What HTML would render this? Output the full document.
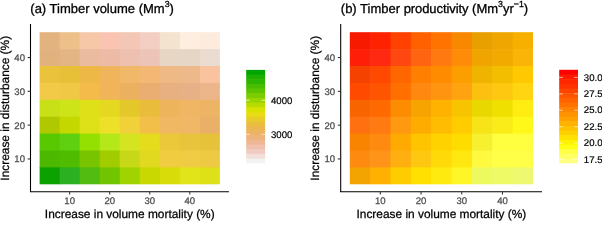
<!DOCTYPE html>
<html><head><meta charset="utf-8"><style>html,body{margin:0;padding:0;background:#fff;width:602px;height:221px;overflow:hidden}svg{display:block;will-change:transform} text{text-rendering:geometricPrecision}</style></head>
<body><svg width="602" height="221" viewBox="0 0 602 221" >
<rect width="602" height="221" fill="#fff"/>
<g>
<rect x="39.60" y="32.20" width="20.63" height="17.50" fill="#E3B37F"/>
<rect x="59.63" y="32.20" width="20.63" height="17.50" fill="#EDC08A"/>
<rect x="79.67" y="32.20" width="20.63" height="17.50" fill="#F7C8A8"/>
<rect x="99.70" y="32.20" width="20.63" height="17.50" fill="#F9C5B2"/>
<rect x="119.73" y="32.20" width="20.63" height="17.50" fill="#F3C6B6"/>
<rect x="139.77" y="32.20" width="20.63" height="17.50" fill="#F3CFC3"/>
<rect x="159.80" y="32.20" width="20.63" height="17.50" fill="#F3E3CF"/>
<rect x="179.83" y="32.20" width="20.63" height="17.50" fill="#FDEEE0"/>
<rect x="199.87" y="32.20" width="20.03" height="17.50" fill="#FDEBDD"/>
<rect x="39.60" y="49.10" width="20.63" height="17.50" fill="#E1B27E"/>
<rect x="59.63" y="49.10" width="20.63" height="17.50" fill="#E3B584"/>
<rect x="79.67" y="49.10" width="20.63" height="17.50" fill="#EBBBA0"/>
<rect x="99.70" y="49.10" width="20.63" height="17.50" fill="#EDBBA5"/>
<rect x="119.73" y="49.10" width="20.63" height="17.50" fill="#EDC0B0"/>
<rect x="139.77" y="49.10" width="20.63" height="17.50" fill="#ECC5B8"/>
<rect x="159.80" y="49.10" width="20.63" height="17.50" fill="#E8D6C4"/>
<rect x="179.83" y="49.10" width="20.63" height="17.50" fill="#E6D6C5"/>
<rect x="199.87" y="49.10" width="20.03" height="17.50" fill="#EADCD0"/>
<rect x="39.60" y="66.00" width="20.63" height="17.50" fill="#EBC23C"/>
<rect x="59.63" y="66.00" width="20.63" height="17.50" fill="#E8C038"/>
<rect x="79.67" y="66.00" width="20.63" height="17.50" fill="#EEB846"/>
<rect x="99.70" y="66.00" width="20.63" height="17.50" fill="#F0B55A"/>
<rect x="119.73" y="66.00" width="20.63" height="17.50" fill="#F2B86A"/>
<rect x="139.77" y="66.00" width="20.63" height="17.50" fill="#F5B874"/>
<rect x="159.80" y="66.00" width="20.63" height="17.50" fill="#EFB986"/>
<rect x="179.83" y="66.00" width="20.63" height="17.50" fill="#EDB88A"/>
<rect x="199.87" y="66.00" width="20.03" height="17.50" fill="#F8C39E"/>
<rect x="39.60" y="82.90" width="20.63" height="17.50" fill="#F3CA48"/>
<rect x="59.63" y="82.90" width="20.63" height="17.50" fill="#F0C846"/>
<rect x="79.67" y="82.90" width="20.63" height="17.50" fill="#F4BA4A"/>
<rect x="99.70" y="82.90" width="20.63" height="17.50" fill="#F2B458"/>
<rect x="119.73" y="82.90" width="20.63" height="17.50" fill="#EBB060"/>
<rect x="139.77" y="82.90" width="20.63" height="17.50" fill="#EBAE72"/>
<rect x="159.80" y="82.90" width="20.63" height="17.50" fill="#E8B080"/>
<rect x="179.83" y="82.90" width="20.63" height="17.50" fill="#E8B087"/>
<rect x="199.87" y="82.90" width="20.03" height="17.50" fill="#EDB58A"/>
<rect x="39.60" y="99.80" width="20.63" height="17.50" fill="#C8E018"/>
<rect x="59.63" y="99.80" width="20.63" height="17.50" fill="#CCE418"/>
<rect x="79.67" y="99.80" width="20.63" height="17.50" fill="#E0E018"/>
<rect x="99.70" y="99.80" width="20.63" height="17.50" fill="#E4D820"/>
<rect x="119.73" y="99.80" width="20.63" height="17.50" fill="#E4C82A"/>
<rect x="139.77" y="99.80" width="20.63" height="17.50" fill="#EABC3C"/>
<rect x="159.80" y="99.80" width="20.63" height="17.50" fill="#EEB45C"/>
<rect x="179.83" y="99.80" width="20.63" height="17.50" fill="#F0B664"/>
<rect x="199.87" y="99.80" width="20.03" height="17.50" fill="#EEB466"/>
<rect x="39.60" y="116.70" width="20.63" height="17.50" fill="#B0C800"/>
<rect x="59.63" y="116.70" width="20.63" height="17.50" fill="#C4D800"/>
<rect x="79.67" y="116.70" width="20.63" height="17.50" fill="#DEE018"/>
<rect x="99.70" y="116.70" width="20.63" height="17.50" fill="#EDE028"/>
<rect x="119.73" y="116.70" width="20.63" height="17.50" fill="#F1D13A"/>
<rect x="139.77" y="116.70" width="20.63" height="17.50" fill="#F2C048"/>
<rect x="159.80" y="116.70" width="20.63" height="17.50" fill="#F0B862"/>
<rect x="179.83" y="116.70" width="20.63" height="17.50" fill="#F0B866"/>
<rect x="199.87" y="116.70" width="20.03" height="17.50" fill="#EBB068"/>
<rect x="39.60" y="133.60" width="20.63" height="17.50" fill="#58C800"/>
<rect x="59.63" y="133.60" width="20.63" height="17.50" fill="#5ED010"/>
<rect x="79.67" y="133.60" width="20.63" height="17.50" fill="#94E000"/>
<rect x="99.70" y="133.60" width="20.63" height="17.50" fill="#B4E818"/>
<rect x="119.73" y="133.60" width="20.63" height="17.50" fill="#D4E420"/>
<rect x="139.77" y="133.60" width="20.63" height="17.50" fill="#E4DC1C"/>
<rect x="159.80" y="133.60" width="20.63" height="17.50" fill="#EAC83A"/>
<rect x="179.83" y="133.60" width="20.63" height="17.50" fill="#E8C43C"/>
<rect x="199.87" y="133.60" width="20.03" height="17.50" fill="#E6C23A"/>
<rect x="39.60" y="150.50" width="20.63" height="17.50" fill="#4CB800"/>
<rect x="59.63" y="150.50" width="20.63" height="17.50" fill="#50BC00"/>
<rect x="79.67" y="150.50" width="20.63" height="17.50" fill="#78C400"/>
<rect x="99.70" y="150.50" width="20.63" height="17.50" fill="#A0CC00"/>
<rect x="119.73" y="150.50" width="20.63" height="17.50" fill="#C6D818"/>
<rect x="139.77" y="150.50" width="20.63" height="17.50" fill="#E1D820"/>
<rect x="159.80" y="150.50" width="20.63" height="17.50" fill="#F0CC40"/>
<rect x="179.83" y="150.50" width="20.63" height="17.50" fill="#F0CC44"/>
<rect x="199.87" y="150.50" width="20.03" height="17.50" fill="#EECA44"/>
<rect x="39.60" y="167.40" width="20.63" height="16.90" fill="#0CA000"/>
<rect x="59.63" y="167.40" width="20.63" height="16.90" fill="#2AB020"/>
<rect x="79.67" y="167.40" width="20.63" height="16.90" fill="#52BC10"/>
<rect x="99.70" y="167.40" width="20.63" height="16.90" fill="#70C400"/>
<rect x="119.73" y="167.40" width="20.63" height="16.90" fill="#A0D400"/>
<rect x="139.77" y="167.40" width="20.63" height="16.90" fill="#C8D800"/>
<rect x="159.80" y="167.40" width="20.63" height="16.90" fill="#D8DC08"/>
<rect x="179.83" y="167.40" width="20.63" height="16.90" fill="#E0E418"/>
<rect x="199.87" y="167.40" width="20.03" height="16.90" fill="#DEE018"/>
<line x1="30.5" y1="24" x2="30.5" y2="192" stroke="#000" stroke-width="1.07"/>
<line x1="30.0" y1="191.7" x2="228.9" y2="191.7" stroke="#000" stroke-width="1.07"/>
<line x1="27.6" y1="57.55" x2="30.5" y2="57.55" stroke="#333" stroke-width="1.07"/>
<text x="25.0" y="61.05" font-size="9.6" fill="#4D4D4D" stroke="#4D4D4D" stroke-width="0.25" text-anchor="end" font-family="Liberation Sans, sans-serif">40</text>
<line x1="27.6" y1="91.35" x2="30.5" y2="91.35" stroke="#333" stroke-width="1.07"/>
<text x="25.0" y="94.85" font-size="9.6" fill="#4D4D4D" stroke="#4D4D4D" stroke-width="0.25" text-anchor="end" font-family="Liberation Sans, sans-serif">30</text>
<line x1="27.6" y1="125.15" x2="30.5" y2="125.15" stroke="#333" stroke-width="1.07"/>
<text x="25.0" y="128.65" font-size="9.6" fill="#4D4D4D" stroke="#4D4D4D" stroke-width="0.25" text-anchor="end" font-family="Liberation Sans, sans-serif">20</text>
<line x1="27.6" y1="158.95" x2="30.5" y2="158.95" stroke="#333" stroke-width="1.07"/>
<text x="25.0" y="162.45" font-size="9.6" fill="#4D4D4D" stroke="#4D4D4D" stroke-width="0.25" text-anchor="end" font-family="Liberation Sans, sans-serif">10</text>
<line x1="69.65" y1="191.7" x2="69.65" y2="194.6" stroke="#333" stroke-width="1.07"/>
<text x="69.65" y="204.3" font-size="9.6" fill="#4D4D4D" stroke="#4D4D4D" stroke-width="0.25" text-anchor="middle" font-family="Liberation Sans, sans-serif">10</text>
<line x1="109.72" y1="191.7" x2="109.72" y2="194.6" stroke="#333" stroke-width="1.07"/>
<text x="109.72" y="204.3" font-size="9.6" fill="#4D4D4D" stroke="#4D4D4D" stroke-width="0.25" text-anchor="middle" font-family="Liberation Sans, sans-serif">20</text>
<line x1="149.78" y1="191.7" x2="149.78" y2="194.6" stroke="#333" stroke-width="1.07"/>
<text x="149.78" y="204.3" font-size="9.6" fill="#4D4D4D" stroke="#4D4D4D" stroke-width="0.25" text-anchor="middle" font-family="Liberation Sans, sans-serif">30</text>
<line x1="189.85" y1="191.7" x2="189.85" y2="194.6" stroke="#333" stroke-width="1.07"/>
<text x="189.85" y="204.3" font-size="9.6" fill="#4D4D4D" stroke="#4D4D4D" stroke-width="0.25" text-anchor="middle" font-family="Liberation Sans, sans-serif">40</text>
<text x="129.75" y="218.35" font-size="11.9" fill="#000" stroke="#000" stroke-width="0.25" text-anchor="middle" font-family="Liberation Sans, sans-serif">Increase in volume mortality (%)</text>
<text x="0" y="0" transform="translate(8.8,108.25) rotate(-90)" font-size="11.9" fill="#000" stroke="#000" stroke-width="0.25" text-anchor="middle" font-family="Liberation Sans, sans-serif">Increase in disturbance (%)</text>
<text x="30.3" y="12.8" font-size="13" fill="#000" stroke="#000" stroke-width="0.3" font-family="Liberation Sans, sans-serif">(a) Timber volume (Mm<tspan font-size="8.8" dy="-6.3">3</tspan><tspan dy="6.3">)</tspan></text>
<rect x="246.2" y="69.90" width="18.90" height="5.27" fill="#00A600"/>
<rect x="246.2" y="74.57" width="18.90" height="5.27" fill="#1CAE00"/>
<rect x="246.2" y="79.24" width="18.90" height="5.27" fill="#2BB500"/>
<rect x="246.2" y="83.91" width="18.90" height="5.27" fill="#47BD00"/>
<rect x="246.2" y="88.58" width="18.90" height="5.27" fill="#5EC400"/>
<rect x="246.2" y="93.25" width="18.90" height="5.27" fill="#7BCC00"/>
<rect x="246.2" y="97.92" width="18.90" height="5.27" fill="#97D400"/>
<rect x="246.2" y="102.59" width="18.90" height="5.27" fill="#B7DB00"/>
<rect x="246.2" y="107.26" width="18.90" height="5.27" fill="#D8E300"/>
<rect x="246.2" y="111.93" width="18.90" height="5.27" fill="#E7DD15"/>
<rect x="246.2" y="116.60" width="18.90" height="5.27" fill="#E8CC27"/>
<rect x="246.2" y="121.27" width="18.90" height="5.27" fill="#E9BF3B"/>
<rect x="246.2" y="125.94" width="18.90" height="5.27" fill="#EAB751"/>
<rect x="246.2" y="130.61" width="18.90" height="5.27" fill="#ECB266"/>
<rect x="246.2" y="135.28" width="18.90" height="5.27" fill="#EDB37D"/>
<rect x="246.2" y="139.95" width="18.90" height="5.27" fill="#EEB693"/>
<rect x="246.2" y="144.62" width="18.90" height="5.27" fill="#EFC0AB"/>
<rect x="246.2" y="149.29" width="18.90" height="5.27" fill="#F0CBC3"/>
<rect x="246.2" y="153.96" width="18.90" height="5.27" fill="#F2DFDA"/>
<rect x="246.2" y="158.63" width="18.90" height="4.67" fill="#F2F2F2"/>
<line x1="246.2" y1="100.30" x2="249.98" y2="100.30" stroke="#fff" stroke-width="0.8" stroke-opacity="0.75" shape-rendering="auto"/>
<line x1="261.32" y1="100.30" x2="265.1" y2="100.30" stroke="#fff" stroke-width="0.8" stroke-opacity="0.75" shape-rendering="auto"/>
<text x="271.0" y="103.50" font-size="9.6" fill="#000" stroke="#000" stroke-width="0.2" font-family="Liberation Sans, sans-serif">4000</text>
<line x1="246.2" y1="134.30" x2="249.98" y2="134.30" stroke="#fff" stroke-width="0.8" stroke-opacity="0.75" shape-rendering="auto"/>
<line x1="261.32" y1="134.30" x2="265.1" y2="134.30" stroke="#fff" stroke-width="0.8" stroke-opacity="0.75" shape-rendering="auto"/>
<text x="271.0" y="137.50" font-size="9.6" fill="#000" stroke="#000" stroke-width="0.2" font-family="Liberation Sans, sans-serif">3000</text>
<rect x="349.80" y="32.20" width="20.96" height="17.50" fill="#F81A00"/>
<rect x="370.16" y="32.20" width="20.96" height="17.50" fill="#FF2200"/>
<rect x="390.51" y="32.20" width="20.96" height="17.50" fill="#FF4200"/>
<rect x="410.87" y="32.20" width="20.96" height="17.50" fill="#FF6000"/>
<rect x="431.22" y="32.20" width="20.96" height="17.50" fill="#FF7400"/>
<rect x="451.58" y="32.20" width="20.96" height="17.50" fill="#F88800"/>
<rect x="471.93" y="32.20" width="20.96" height="17.50" fill="#E8A000"/>
<rect x="492.29" y="32.20" width="20.96" height="17.50" fill="#EFA600"/>
<rect x="512.64" y="32.20" width="20.36" height="17.50" fill="#F8B000"/>
<rect x="349.80" y="49.10" width="20.96" height="17.50" fill="#FF1E08"/>
<rect x="370.16" y="49.10" width="20.96" height="17.50" fill="#FF2810"/>
<rect x="390.51" y="49.10" width="20.96" height="17.50" fill="#FF4810"/>
<rect x="410.87" y="49.10" width="20.96" height="17.50" fill="#FF6410"/>
<rect x="431.22" y="49.10" width="20.96" height="17.50" fill="#FF7810"/>
<rect x="451.58" y="49.10" width="20.96" height="17.50" fill="#FF8C08"/>
<rect x="471.93" y="49.10" width="20.96" height="17.50" fill="#F0A400"/>
<rect x="492.29" y="49.10" width="20.96" height="17.50" fill="#F2AA00"/>
<rect x="512.64" y="49.10" width="20.36" height="17.50" fill="#FAB408"/>
<rect x="349.80" y="66.00" width="20.96" height="17.50" fill="#F54200"/>
<rect x="370.16" y="66.00" width="20.96" height="17.50" fill="#FF4800"/>
<rect x="390.51" y="66.00" width="20.96" height="17.50" fill="#FF6600"/>
<rect x="410.87" y="66.00" width="20.96" height="17.50" fill="#FF8000"/>
<rect x="431.22" y="66.00" width="20.96" height="17.50" fill="#FF8C00"/>
<rect x="451.58" y="66.00" width="20.96" height="17.50" fill="#FC9E00"/>
<rect x="471.93" y="66.00" width="20.96" height="17.50" fill="#EEB400"/>
<rect x="492.29" y="66.00" width="20.96" height="17.50" fill="#F4BE00"/>
<rect x="512.64" y="66.00" width="20.36" height="17.50" fill="#FFC800"/>
<rect x="349.80" y="82.90" width="20.96" height="17.50" fill="#FF4A00"/>
<rect x="370.16" y="82.90" width="20.96" height="17.50" fill="#FF5400"/>
<rect x="390.51" y="82.90" width="20.96" height="17.50" fill="#FF7000"/>
<rect x="410.87" y="82.90" width="20.96" height="17.50" fill="#FF8810"/>
<rect x="431.22" y="82.90" width="20.96" height="17.50" fill="#FF9410"/>
<rect x="451.58" y="82.90" width="20.96" height="17.50" fill="#FFA410"/>
<rect x="471.93" y="82.90" width="20.96" height="17.50" fill="#FCC010"/>
<rect x="492.29" y="82.90" width="20.96" height="17.50" fill="#FFC810"/>
<rect x="512.64" y="82.90" width="20.36" height="17.50" fill="#FFD410"/>
<rect x="349.80" y="99.80" width="20.96" height="17.50" fill="#F86400"/>
<rect x="370.16" y="99.80" width="20.96" height="17.50" fill="#FF6A00"/>
<rect x="390.51" y="99.80" width="20.96" height="17.50" fill="#FC8C00"/>
<rect x="410.87" y="99.80" width="20.96" height="17.50" fill="#F8A400"/>
<rect x="431.22" y="99.80" width="20.96" height="17.50" fill="#FFB200"/>
<rect x="451.58" y="99.80" width="20.96" height="17.50" fill="#F8C400"/>
<rect x="471.93" y="99.80" width="20.96" height="17.50" fill="#E8D800"/>
<rect x="492.29" y="99.80" width="20.96" height="17.50" fill="#F0E000"/>
<rect x="512.64" y="99.80" width="20.36" height="17.50" fill="#FFEC10"/>
<rect x="349.80" y="116.70" width="20.96" height="17.50" fill="#FF7010"/>
<rect x="370.16" y="116.70" width="20.96" height="17.50" fill="#FF7A10"/>
<rect x="390.51" y="116.70" width="20.96" height="17.50" fill="#FF9A10"/>
<rect x="410.87" y="116.70" width="20.96" height="17.50" fill="#FFAC00"/>
<rect x="431.22" y="116.70" width="20.96" height="17.50" fill="#FFBC00"/>
<rect x="451.58" y="116.70" width="20.96" height="17.50" fill="#FFCC00"/>
<rect x="471.93" y="116.70" width="20.96" height="17.50" fill="#F6E418"/>
<rect x="492.29" y="116.70" width="20.96" height="17.50" fill="#FAEC18"/>
<rect x="512.64" y="116.70" width="20.36" height="17.50" fill="#FFF818"/>
<rect x="349.80" y="133.60" width="20.96" height="17.50" fill="#F88400"/>
<rect x="370.16" y="133.60" width="20.96" height="17.50" fill="#FF8A10"/>
<rect x="390.51" y="133.60" width="20.96" height="17.50" fill="#FFAA00"/>
<rect x="410.87" y="133.60" width="20.96" height="17.50" fill="#FFC400"/>
<rect x="431.22" y="133.60" width="20.96" height="17.50" fill="#FFD200"/>
<rect x="451.58" y="133.60" width="20.96" height="17.50" fill="#FFDC00"/>
<rect x="471.93" y="133.60" width="20.96" height="17.50" fill="#F6F030"/>
<rect x="492.29" y="133.60" width="20.96" height="17.50" fill="#FFFF40"/>
<rect x="512.64" y="133.60" width="20.36" height="17.50" fill="#FFFF40"/>
<rect x="349.80" y="150.50" width="20.96" height="17.50" fill="#FF8A10"/>
<rect x="370.16" y="150.50" width="20.96" height="17.50" fill="#FF9418"/>
<rect x="390.51" y="150.50" width="20.96" height="17.50" fill="#FFB010"/>
<rect x="410.87" y="150.50" width="20.96" height="17.50" fill="#FFC810"/>
<rect x="431.22" y="150.50" width="20.96" height="17.50" fill="#FFDA08"/>
<rect x="451.58" y="150.50" width="20.96" height="17.50" fill="#FFE810"/>
<rect x="471.93" y="150.50" width="20.96" height="17.50" fill="#FFFA40"/>
<rect x="492.29" y="150.50" width="20.96" height="17.50" fill="#FFFF48"/>
<rect x="512.64" y="150.50" width="20.36" height="17.50" fill="#FFFF48"/>
<rect x="349.80" y="167.40" width="20.96" height="16.90" fill="#F4A400"/>
<rect x="370.16" y="167.40" width="20.96" height="16.90" fill="#FFB000"/>
<rect x="390.51" y="167.40" width="20.96" height="16.90" fill="#FFCC00"/>
<rect x="410.87" y="167.40" width="20.96" height="16.90" fill="#FFE000"/>
<rect x="431.22" y="167.40" width="20.96" height="16.90" fill="#FFEA10"/>
<rect x="451.58" y="167.40" width="20.96" height="16.90" fill="#FFF628"/>
<rect x="471.93" y="167.40" width="20.96" height="16.90" fill="#ECFA60"/>
<rect x="492.29" y="167.40" width="20.96" height="16.90" fill="#EEFA66"/>
<rect x="512.64" y="167.40" width="20.36" height="16.90" fill="#EEF870"/>
<line x1="340.7" y1="24" x2="340.7" y2="192" stroke="#000" stroke-width="1.07"/>
<line x1="340.2" y1="191.7" x2="542.0" y2="191.7" stroke="#000" stroke-width="1.07"/>
<line x1="337.8" y1="57.55" x2="340.7" y2="57.55" stroke="#333" stroke-width="1.07"/>
<text x="335.2" y="61.05" font-size="9.6" fill="#4D4D4D" stroke="#4D4D4D" stroke-width="0.25" text-anchor="end" font-family="Liberation Sans, sans-serif">40</text>
<line x1="337.8" y1="91.35" x2="340.7" y2="91.35" stroke="#333" stroke-width="1.07"/>
<text x="335.2" y="94.85" font-size="9.6" fill="#4D4D4D" stroke="#4D4D4D" stroke-width="0.25" text-anchor="end" font-family="Liberation Sans, sans-serif">30</text>
<line x1="337.8" y1="125.15" x2="340.7" y2="125.15" stroke="#333" stroke-width="1.07"/>
<text x="335.2" y="128.65" font-size="9.6" fill="#4D4D4D" stroke="#4D4D4D" stroke-width="0.25" text-anchor="end" font-family="Liberation Sans, sans-serif">20</text>
<line x1="337.8" y1="158.95" x2="340.7" y2="158.95" stroke="#333" stroke-width="1.07"/>
<text x="335.2" y="162.45" font-size="9.6" fill="#4D4D4D" stroke="#4D4D4D" stroke-width="0.25" text-anchor="end" font-family="Liberation Sans, sans-serif">10</text>
<line x1="380.33" y1="191.7" x2="380.33" y2="194.6" stroke="#333" stroke-width="1.07"/>
<text x="380.33" y="204.3" font-size="9.6" fill="#4D4D4D" stroke="#4D4D4D" stroke-width="0.25" text-anchor="middle" font-family="Liberation Sans, sans-serif">10</text>
<line x1="421.04" y1="191.7" x2="421.04" y2="194.6" stroke="#333" stroke-width="1.07"/>
<text x="421.04" y="204.3" font-size="9.6" fill="#4D4D4D" stroke="#4D4D4D" stroke-width="0.25" text-anchor="middle" font-family="Liberation Sans, sans-serif">20</text>
<line x1="461.76" y1="191.7" x2="461.76" y2="194.6" stroke="#333" stroke-width="1.07"/>
<text x="461.76" y="204.3" font-size="9.6" fill="#4D4D4D" stroke="#4D4D4D" stroke-width="0.25" text-anchor="middle" font-family="Liberation Sans, sans-serif">30</text>
<line x1="502.47" y1="191.7" x2="502.47" y2="194.6" stroke="#333" stroke-width="1.07"/>
<text x="502.47" y="204.3" font-size="9.6" fill="#4D4D4D" stroke="#4D4D4D" stroke-width="0.25" text-anchor="middle" font-family="Liberation Sans, sans-serif">40</text>
<text x="441.40" y="218.35" font-size="11.9" fill="#000" stroke="#000" stroke-width="0.25" text-anchor="middle" font-family="Liberation Sans, sans-serif">Increase in volume mortality (%)</text>
<text x="0" y="0" transform="translate(318.7,108.25) rotate(-90)" font-size="11.9" fill="#000" stroke="#000" stroke-width="0.25" text-anchor="middle" font-family="Liberation Sans, sans-serif">Increase in disturbance (%)</text>
<text x="340.8" y="12.8" font-size="13" fill="#000" stroke="#000" stroke-width="0.3" font-family="Liberation Sans, sans-serif">(b) Timber <tspan letter-spacing="-0.08">productivity</tspan> (Mm<tspan font-size="8.8" dy="-6.3">3</tspan><tspan dy="6.3">yr</tspan><tspan font-size="8.8" dy="-6.3">−1</tspan><tspan dy="6.3">)</tspan></text>
<rect x="559.2" y="69.80" width="18.80" height="5.28" fill="#FF0000"/>
<rect x="559.2" y="74.47" width="18.80" height="5.28" fill="#FF1A00"/>
<rect x="559.2" y="79.15" width="18.80" height="5.28" fill="#FF2700"/>
<rect x="559.2" y="83.83" width="18.80" height="5.28" fill="#FF3100"/>
<rect x="559.2" y="88.50" width="18.80" height="5.28" fill="#FF4400"/>
<rect x="559.2" y="93.17" width="18.80" height="5.28" fill="#FF5400"/>
<rect x="559.2" y="97.85" width="18.80" height="5.28" fill="#FF6200"/>
<rect x="559.2" y="102.53" width="18.80" height="5.28" fill="#FF7200"/>
<rect x="559.2" y="107.20" width="18.80" height="5.28" fill="#FF8200"/>
<rect x="559.2" y="111.88" width="18.80" height="5.28" fill="#FF9200"/>
<rect x="559.2" y="116.55" width="18.80" height="5.28" fill="#FFA100"/>
<rect x="559.2" y="121.23" width="18.80" height="5.28" fill="#FFB200"/>
<rect x="559.2" y="125.90" width="18.80" height="5.28" fill="#FFC200"/>
<rect x="559.2" y="130.57" width="18.80" height="5.28" fill="#FFD100"/>
<rect x="559.2" y="135.25" width="18.80" height="5.28" fill="#FFE200"/>
<rect x="559.2" y="139.93" width="18.80" height="5.28" fill="#FFF200"/>
<rect x="559.2" y="144.60" width="18.80" height="5.28" fill="#FFFF16"/>
<rect x="559.2" y="149.28" width="18.80" height="5.28" fill="#FFFF48"/>
<rect x="559.2" y="153.95" width="18.80" height="5.28" fill="#FFFF66"/>
<rect x="559.2" y="158.62" width="18.80" height="4.68" fill="#FFFF80"/>
<line x1="559.2" y1="77.42" x2="562.96" y2="77.42" stroke="#fff" stroke-width="0.8" stroke-opacity="0.75" shape-rendering="auto"/>
<line x1="574.24" y1="77.42" x2="578.0" y2="77.42" stroke="#fff" stroke-width="0.8" stroke-opacity="0.75" shape-rendering="auto"/>
<text x="583.8" y="80.62" font-size="9.6" fill="#000" stroke="#000" stroke-width="0.2" font-family="Liberation Sans, sans-serif">30.0</text>
<line x1="559.2" y1="93.83" x2="562.96" y2="93.83" stroke="#fff" stroke-width="0.8" stroke-opacity="0.75" shape-rendering="auto"/>
<line x1="574.24" y1="93.83" x2="578.0" y2="93.83" stroke="#fff" stroke-width="0.8" stroke-opacity="0.75" shape-rendering="auto"/>
<text x="583.8" y="97.03" font-size="9.6" fill="#000" stroke="#000" stroke-width="0.2" font-family="Liberation Sans, sans-serif">27.5</text>
<line x1="559.2" y1="110.25" x2="562.96" y2="110.25" stroke="#fff" stroke-width="0.8" stroke-opacity="0.75" shape-rendering="auto"/>
<line x1="574.24" y1="110.25" x2="578.0" y2="110.25" stroke="#fff" stroke-width="0.8" stroke-opacity="0.75" shape-rendering="auto"/>
<text x="583.8" y="113.45" font-size="9.6" fill="#000" stroke="#000" stroke-width="0.2" font-family="Liberation Sans, sans-serif">25.0</text>
<line x1="559.2" y1="126.66" x2="562.96" y2="126.66" stroke="#fff" stroke-width="0.8" stroke-opacity="0.75" shape-rendering="auto"/>
<line x1="574.24" y1="126.66" x2="578.0" y2="126.66" stroke="#fff" stroke-width="0.8" stroke-opacity="0.75" shape-rendering="auto"/>
<text x="583.8" y="129.86" font-size="9.6" fill="#000" stroke="#000" stroke-width="0.2" font-family="Liberation Sans, sans-serif">22.5</text>
<line x1="559.2" y1="143.08" x2="562.96" y2="143.08" stroke="#fff" stroke-width="0.8" stroke-opacity="0.75" shape-rendering="auto"/>
<line x1="574.24" y1="143.08" x2="578.0" y2="143.08" stroke="#fff" stroke-width="0.8" stroke-opacity="0.75" shape-rendering="auto"/>
<text x="583.8" y="146.28" font-size="9.6" fill="#000" stroke="#000" stroke-width="0.2" font-family="Liberation Sans, sans-serif">20.0</text>
<line x1="559.2" y1="159.49" x2="562.96" y2="159.49" stroke="#fff" stroke-width="0.8" stroke-opacity="0.75" shape-rendering="auto"/>
<line x1="574.24" y1="159.49" x2="578.0" y2="159.49" stroke="#fff" stroke-width="0.8" stroke-opacity="0.75" shape-rendering="auto"/>
<text x="583.8" y="162.69" font-size="9.6" fill="#000" stroke="#000" stroke-width="0.2" font-family="Liberation Sans, sans-serif">17.5</text>
</g>
</svg></body></html>
